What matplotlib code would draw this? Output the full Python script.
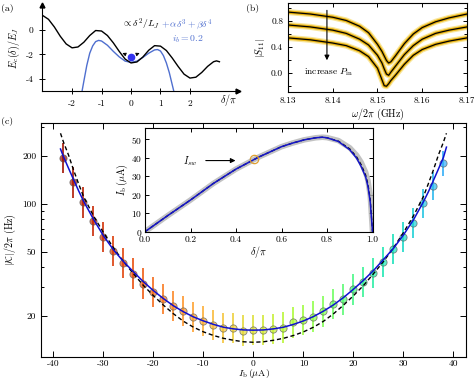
import numpy as np
import matplotlib.pyplot as plt
from matplotlib.ticker import FixedLocator, LogLocator, NullFormatter

plt.rcParams['font.family'] = 'cmr10'
plt.rcParams['mathtext.fontset'] = 'cm'
plt.rcParams['axes.formatter.use_mathtext'] = True
plt.rcParams['axes.unicode_minus'] = False
plt.rcParams['font.size'] = 6.8
plt.rcParams['axes.linewidth'] = 0.8

# ---- (a) potential ----
delta_a = [-3.0, -2.8, -2.6, -2.4, -2.2, -2.0, -1.8, -1.6, -1.4, -1.2, -1.0, -0.8, -0.6, -0.4, -0.2,
           0.0, 0.2, 0.4, 0.6, 0.8, 1.0, 1.2, 1.4, 1.6, 1.8, 2.0, 2.2, 2.4, 2.6, 2.8, 2.9, 3.0]
E_full = [1.2, 0.88, 0.25, -0.51, -1.14, -1.46, -1.39, -1.0, -0.45, -0.04, -0.08, -0.45, -1.05, -1.75,
          -2.38, -2.7, -2.62, -2.22, -1.66, -1.28, -1.32, -1.68, -2.3, -2.99, -3.62, -3.94, -3.87,
          -3.48, -2.98, -2.6, -2.53, -2.6]
delta_q = [-1.66, -1.6, -1.5, -1.4, -1.3, -1.2, -1.1, -1.0, -0.8, -0.6, -0.4, -0.2, 0.0,
           0.2, 0.4, 0.6, 0.8, 0.9, 1.0, 1.1, 1.2, 1.3, 1.4, 1.45]
E_quart = [-5.0, -4.2, -2.9, -1.9, -1.3, -0.95, -0.85, -0.9, -1.25, -1.75, -2.2, -2.55, -2.65,
           -2.55, -2.25, -1.9, -1.63, -1.6, -1.72, -2.1, -2.7, -3.5, -4.5, -5.0]
dot_a = (0.0, -2.2)

# ---- (b) reflection ----
freq = [8.130, 8.135, 8.140, 8.143, 8.146, 8.148, 8.150, 8.151, 8.1515, 8.152, 8.1525, 8.153,
        8.154, 8.156, 8.158, 8.160, 8.163, 8.166, 8.170]
s11_low = [0.94, 0.91, 0.86, 0.81, 0.72, 0.62, 0.44, 0.33, 0.26, 0.19, 0.15, 0.17, 0.26, 0.45,
           0.60, 0.70, 0.79, 0.85, 0.91]
s11_mid = [0.74, 0.71, 0.66, 0.61, 0.52, 0.43, 0.27, 0.15, 0.06, -0.02, -0.04, 0.01, 0.10, 0.28,
           0.42, 0.52, 0.61, 0.66, 0.71]
s11_high = [0.54, 0.51, 0.46, 0.42, 0.34, 0.25, 0.07, -0.11, -0.2, -0.21, -0.17, -0.12, -0.04,
            0.13, 0.27, 0.36, 0.44, 0.49, 0.54]

# ---- (c) Kerr vs bias current ----
I_b = list(range(-38, 39, 2))
K_meas = [194, 136, 102, 78, 62, 50.7, 42.7, 36.6, 31.7, 28.1, 25.4, 23.0, 21.3, 19.6, 18.4,
          17.5, 16.7, 16.7, 16.1, 16.3, 16.2, 16.5, 16.8, 18.1, 18.8, 19.7, 21.2, 23.6, 25.2,
          29.1, 32.4, 36.9, 43.3, 52.0, 62.1, 76.0, 100.6, 129, 179]
K_err_dex = [0.095] * 36 + [0.09, 0.085, 0.08]

I_curve = [-38.6, -38, -37, -36, -35, -34, -32, -30, -28, -26, -24, -22, -20, -18, -16, -14, -12,
           -10, -8, -6, -4, -2, 0, 2, 4, 6, 8, 10, 12, 14, 16, 18, 20, 22, 24, 26, 28, 30, 32, 34,
           35, 36, 37, 38, 38.6]
K_fit = [220, 197, 167, 142, 121, 104, 80, 63, 51.5, 43.5, 37.5, 32.5, 28.6, 25.5, 23.0, 21.1,
         19.6, 18.5, 17.6, 16.9, 16.5, 16.25, 16.2, 16.25, 16.5, 16.9, 17.6, 18.5, 19.7, 21.3,
         23.3, 25.9, 29.2, 33.2, 38.2, 44.8, 52.6, 63.8, 79.3, 103, 119, 140, 165, 195, 226]
K_theory = [276, 243, 202, 163, 134, 111, 84, 66, 53, 43.5, 36.5, 30.8, 26.6, 23.2, 20.5, 18.4,
            16.9, 15.8, 15.0, 14.4, 14.0, 13.7, 13.6, 13.7, 14.0, 14.4, 15.0, 15.8, 16.9, 18.4,
            20.5, 23.2, 26.6, 30.8, 36.5, 43.5, 53, 66, 84, 111, 134, 163, 202, 243, 276]

# ---- inset ----
delta_in = [0, 0.1, 0.2, 0.3, 0.4, 0.5, 0.6, 0.65, 0.7, 0.75, 0.78, 0.8, 0.85, 0.9, 0.93, 0.95,
            0.97, 0.98, 0.99, 1.0]
Ib_model = [0, 8.7, 17.1, 26.0, 33.8, 40.3, 45.9, 47.9, 49.6, 50.7, 51.0, 50.7, 48.7, 44.2, 39.7,
            35.2, 29.5, 24.4, 16.0, 0]
Ib_band = [0, 8.7, 17.1, 26.0, 33.8, 40.3, 45.9, 47.9, 49.6, 50.7, 51.0, 50.8, 49.2, 45.3, 41.3,
           37.5, 32.0, 27.5, 19.5, 0]
Ib_dash = [0, 8.7, 17.1, 26.0, 33.8, 40.3, 45.9, 47.9, 49.6, 50.7, 51.0, 50.7, 48.9, 44.7, 40.4,
           36.2, 30.5, 25.6, 17.5, 0]
I_sw = (0.48, 39.0)

fig = plt.figure(figsize=(4.74, 3.82), dpi=100)

# ================= (a)
axa = fig.add_axes([0.0886, 0.7618, 0.4135, 0.225])
qblue = '#4f6fcf'
axa.plot(delta_q, E_quart, color=qblue, lw=1.0)
axa.plot(delta_a, E_full, color='k', lw=1.0)
axa.plot(*dot_a, 'o', color='#3333ee', ms=4.5, zorder=5)
for sgn in (-1, 1):
    axa.annotate('', xy=(sgn * 0.38, -1.8), xytext=(sgn * 0.1, -2.08),
                 arrowprops=dict(arrowstyle='-|>', color='k', lw=0.6, mutation_scale=5))
axa.set_xlim(-3.02, 3.63)
axa.set_ylim(-5, 2.05)
for s in ('top', 'right'):
    axa.spines[s].set_visible(False)
axa.plot(1, 0, '>k', ms=3.5, transform=axa.transAxes, clip_on=False)
axa.plot(0, 1, '^k', ms=3.5, transform=axa.transAxes, clip_on=False)
axa.set_xticks([-2, -1, 0, 1, 2])
axa.set_xticklabels(['-2', '-1', '0', '1', '2'])
axa.set_yticks([0, -2, -4])
axa.set_yticklabels(['0', '-2', '-4'])
axa.tick_params(direction='inout', length=5, width=0.7)
axa.text(0.95, -0.1, r'$\delta/\pi$', transform=axa.transAxes, ha='center', va='center', fontsize=7.2)
axa.set_ylabel(r'$E_c(\delta)/E_J$', fontsize=7.2, labelpad=3)
axa.text(1.0, 0.45, r'$\propto\delta^2/L_J$', ha='right', va='center', fontsize=7)
axa.text(1.03, 0.45, r'$+\,\alpha\delta^3+\beta\delta^4$', ha='left', va='center', fontsize=7,
         color=qblue)
axa.text(2.47, -0.75, r'$i_b=0.2$', ha='right', va='center', fontsize=7, color=qblue)

# ================= (b)
axb = fig.add_axes([0.6076, 0.759, 0.3776, 0.233])
for s11 in (s11_low, s11_mid, s11_high):
    axb.plot(freq, s11, color='#f7dc6f', lw=4.4, solid_capstyle='round', solid_joinstyle='round',
             alpha=0.7)
    axb.plot(freq, s11, color='#e8b00c', lw=2.5, solid_capstyle='round', solid_joinstyle='round')
    axb.plot(freq, s11, color='k', lw=0.9, solid_joinstyle='round')
axb.set_xlim(8.13, 8.17)
axb.set_ylim(-0.3, 1.08)
axb.set_xticks([8.13, 8.14, 8.15, 8.16, 8.17])
axb.set_xticklabels(['8.13', '8.14', '8.15', '8.16', '8.17'])
axb.set_yticks([0.0, 0.4, 0.8])
axb.set_yticklabels(['0.0', '0.4', '0.8'])
axb.yaxis.set_minor_locator(FixedLocator([-0.2, 0.2, 0.6, 1.0]))
axb.tick_params(direction='in', top=True, right=True, length=3, width=0.7, which='both')
axb.tick_params(which='minor', length=2)
axb.annotate('', xy=(8.1387, 0.15), xytext=(8.1387, 1.01),
             arrowprops=dict(arrowstyle='-|>', color='k', lw=0.8, mutation_scale=7))
axb.text(8.1335, 0.01, r'increase $P_{\rm in}$', ha='left', va='center', fontsize=6.8)
axb.set_xlabel(r'$\omega/2\pi$ (GHz)', fontsize=7.2, labelpad=1)
axb.set_ylabel(r'$|S_{11}|$', fontsize=7.2, labelpad=3)

# ================= (c)
axc = fig.add_axes([0.0865, 0.0654, 0.8965, 0.6126])
cmap = plt.cm.turbo
for x, k, e in zip(I_b, K_meas, K_err_dex):
    col = cmap(0.95 - 0.72 * (x + 38) / 76)
    lo = k - k / 10 ** e
    hi = k * 10 ** e - k
    axc.errorbar([x], [k], yerr=[[lo], [hi]], fmt='none', ecolor=col, elinewidth=1.4,
                 alpha=0.85, zorder=2)
    axc.plot([x], [k], 'o', ms=5.2, mfc=col, mec='0.35', mew=0.6, alpha=0.7, zorder=3)
axc.plot(I_curve, K_theory, 'k--', lw=1.0, dashes=(3, 2), zorder=4)
axc.plot(I_curve, K_fit, color='#1010d0', lw=1.1, zorder=4)
axc.set_yscale('log')
axc.set_xlim(-42.5, 42.5)
axc.set_ylim(11, 320)
axc.set_xticks([-40, -30, -20, -10, 0, 10, 20, 30, 40])
axc.set_xticklabels(['-40', '-30', '-20', '-10', '0', '10', '20', '30', '40'])
axc.set_yticks([20, 50, 100, 200])
axc.set_yticklabels(['20', '50', '100', '200'])
axc.yaxis.set_minor_locator(LogLocator(base=10, subs=np.arange(2, 10)))
axc.yaxis.set_minor_formatter(NullFormatter())
axc.tick_params(direction='in', top=True, right=True, length=4, width=0.7, which='both')
axc.tick_params(which='minor', length=2.5)
axc.tick_params(axis='x', pad=2)
axc.set_xlabel(r'$I_{\rm b}\,(\mu{\rm A})$', fontsize=7.0, labelpad=-0.8)
axc.set_ylabel(r'$|\mathcal{K}|/2\pi$ (Hz)', fontsize=7.2, labelpad=3)

# ================= inset
axi = fig.add_axes([0.3059, 0.3935, 0.48, 0.2715])
axi.plot(delta_in, Ib_band, color='0.7', lw=4, alpha=0.8, solid_capstyle='round')
axi.plot(delta_in, Ib_dash, 'k--', lw=0.9, dashes=(3, 2))
axi.plot(delta_in, Ib_model, color='#1515c8', lw=1.1)
axi.plot(*I_sw, 'o', mfc='none', mec='#e0a030', ms=6, mew=0.9)
axi.annotate('', xy=(0.41, 38.4), xytext=(0.255, 38.4),
             arrowprops=dict(arrowstyle='-|>', color='k', lw=0.8, mutation_scale=7))
axi.text(0.2, 38.0, r'$I_{sw}$', ha='center', va='center', fontsize=7.2)
axi.set_xlim(0, 1)
axi.set_ylim(0, 56)
axi.set_xticks([0, 0.2, 0.4, 0.6, 0.8, 1.0])
axi.set_xticklabels(['0.0', '0.2', '0.4', '0.6', '0.8', '1.0'])
axi.set_yticks([0, 10, 20, 30, 40, 50])
axi.tick_params(direction='in', top=True, right=True, length=3, width=0.7)
axi.tick_params(axis='x', pad=3)
axi.tick_params(axis='y', pad=2)
axi.set_xlabel(r'$\delta/\pi$', fontsize=7.2, labelpad=0)
axi.set_ylabel(r'$I_{\rm b}\,(\mu{\rm A})$', fontsize=7.2, labelpad=1)

fig.text(0.002, 0.99, '(a)', ha='left', va='top', fontsize=7)
fig.text(0.518, 0.99, '(b)', ha='left', va='top', fontsize=7)
fig.text(0.002, 0.695, '(c)', ha='left', va='top', fontsize=7)

fig.savefig('out.png', dpi=100)
